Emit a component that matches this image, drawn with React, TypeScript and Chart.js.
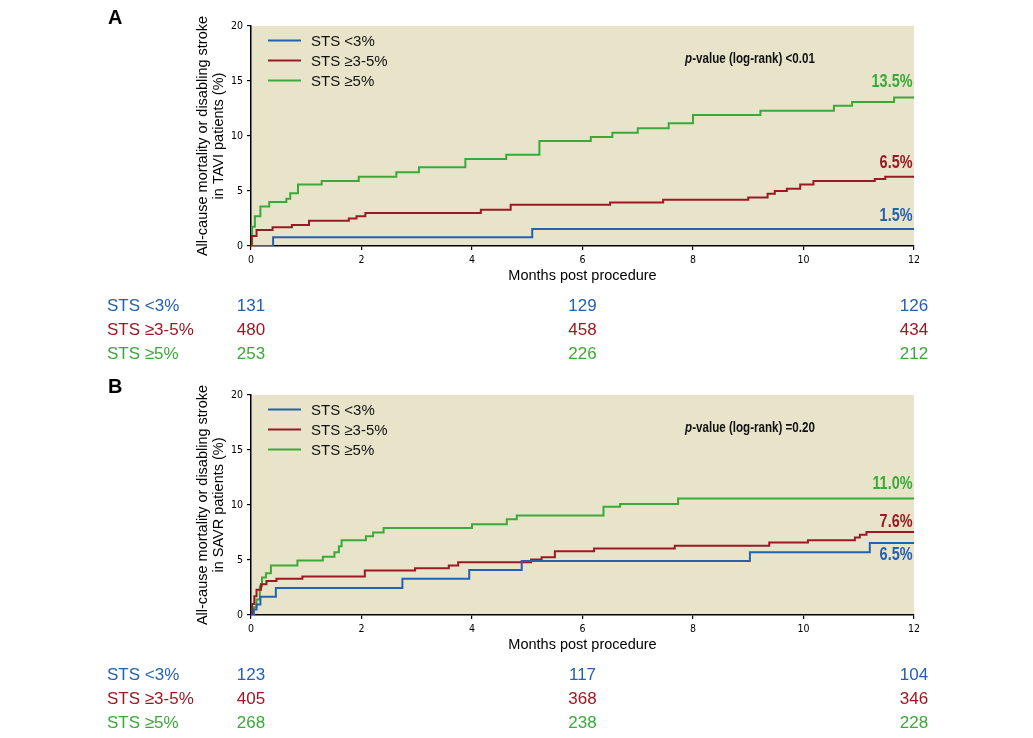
import { useEffect, useRef } from "react";
import { Chart, registerables } from "chart.js";

Chart.register(...registerables);

const NARROW = "'Liberation Sans Narrow', 'DejaVu Sans Condensed', 'Liberation Sans', sans-serif";
const SANS = "'Liberation Sans', Arial, sans-serif";

const BLUE = "#2361b1";
const RED = "#9b1824";
const GREEN = "#3ba93a";
const PLOT_BG = "#e8e4c9";

const groupLabels = ["STS <3%", "STS ≥3-5%", "STS ≥5%"];
const riskTimes = [0, 6, 12];

// panel A - TAVI
const blueA_t = [0, 0.4, 5.09, 12];
const blueA_v = [0, 0.8, 1.55, 1.55];
const redA_t = [0, 0.01, 0.1, 0.39, 0.74, 1.05, 1.77, 1.91, 2.07, 4.16, 4.7, 6.5, 7.46, 9.0, 9.35, 9.48, 9.7, 9.94, 10.18, 11.29, 11.48, 12];
const redA_v = [0, 0.9, 1.45, 1.7, 1.9, 2.3, 2.5, 2.7, 3.0, 3.3, 3.75, 3.95, 4.2, 4.4, 4.75, 5.0, 5.2, 5.6, 5.9, 6.1, 6.3, 6.3];
const greenA_t = [0, 0.02, 0.07, 0.17, 0.33, 0.64, 0.71, 0.85, 1.28, 1.95, 2.63, 3.04, 3.88, 4.62, 5.22, 6.15, 6.54, 7.0, 7.56, 8.0, 9.22, 10.55, 10.88, 11.64, 12];
const greenA_v = [0, 1.75, 2.7, 3.6, 4.0, 4.3, 4.8, 5.6, 5.9, 6.3, 6.7, 7.15, 7.9, 8.3, 9.55, 9.9, 10.3, 10.7, 11.15, 11.9, 12.3, 12.75, 13.1, 13.5, 13.5];
const finalA = ["1.5%", "6.5%", "13.5%"];
const riskA_low = [131, 129, 126];
const riskA_mid = [480, 458, 434];
const riskA_high = [253, 226, 212];

// panel B - SAVR
const blueB_t = [0, 0.05, 0.1, 0.17, 0.45, 2.74, 3.95, 4.9, 9.03, 11.2, 12];
const blueB_v = [0, 0.5, 0.95, 1.65, 2.45, 3.3, 4.1, 4.9, 5.7, 6.55, 6.55];
const redB_t = [0, 0.02, 0.06, 0.1, 0.18, 0.28, 0.46, 0.93, 2.06, 2.97, 3.58, 3.75, 5.07, 5.26, 5.5, 6.21, 7.67, 9.38, 10.08, 10.93, 11.02, 11.14, 12];
const redB_v = [0, 1.0, 1.7, 2.3, 2.8, 3.1, 3.3, 3.5, 4.05, 4.25, 4.5, 4.8, 5.05, 5.25, 5.8, 6.05, 6.3, 6.6, 6.8, 7.05, 7.3, 7.55, 7.55];
const greenB_t = [0, 0.05, 0.1, 0.16, 0.2, 0.27, 0.36, 0.84, 1.3, 1.51, 1.59, 1.64, 2.08, 2.21, 2.4, 4.0, 4.63, 4.81, 6.38, 6.68, 7.73, 12];
const greenB_v = [0, 0.7, 1.4, 2.6, 3.4, 3.8, 4.5, 4.95, 5.3, 5.7, 6.25, 6.8, 7.15, 7.5, 7.9, 8.25, 8.7, 9.05, 9.84, 10.1, 10.6, 10.6];
const finalB = ["6.5%", "7.6%", "11.0%"];
const riskB_low = [123, 117, 104];
const riskB_mid = [405, 368, 346];
const riskB_high = [268, 238, 228];

const colors = [BLUE, RED, GREEN];

// draw text squeezed horizontally (condensed look)
function squeezed(ctx: CanvasRenderingContext2D, text: string, x: number, y: number, sx: number) {
  ctx.save();
  ctx.translate(x, y);
  ctx.scale(sx, 1);
  ctx.fillText(text, 0, 0);
  ctx.restore();
}

const panelDecor = {
  id: "panelDecor",
  beforeDraw(chart: any) {
    const { ctx, chartArea: a } = chart;
    ctx.save();
    ctx.fillStyle = PLOT_BG;
    ctx.fillRect(a.left, a.top, a.right - a.left, a.bottom - a.top);
    ctx.restore();
  },
  afterDraw(chart: any, _args: any, o: any) {
    const { ctx, chartArea: a, scales } = chart;
    const xs = scales.x;
    const ys = scales.y;
    ctx.save();

    // panel letter
    ctx.fillStyle = "#000";
    ctx.font = `bold 21px ${SANS}`;
    ctx.textAlign = "left";
    ctx.textBaseline = "alphabetic";
    squeezed(ctx, o.letter, 108, a.top - 2.5, 0.95);

    // legend inside plot
    chart.data.datasets.forEach((ds: any, i: number) => {
      const y = a.top + 14.5 + i * 20;
      ctx.strokeStyle = ds.borderColor;
      ctx.lineWidth = 2;
      ctx.beginPath();
      ctx.moveTo(a.left + 17, y);
      ctx.lineTo(a.left + 50, y);
      ctx.stroke();
      ctx.fillStyle = "#111";
      ctx.font = `15px ${SANS}`;
      ctx.textAlign = "left";
      ctx.textBaseline = "middle";
      ctx.fillText(ds.label, a.left + 60, y + 1);
    });

    // p-value
    const sx = 0.8;
    const pY = a.top + 32.5;
    ctx.font = `italic bold 14.5px ${SANS}`;
    const wP = ctx.measureText("p").width * sx;
    ctx.font = `bold 14.5px ${SANS}`;
    const rest = "-value (log-rank) " + o.pText;
    const wR = ctx.measureText(rest).width * sx;
    const x0 = a.left + 499 - (wP + wR) / 2;
    ctx.fillStyle = "#111";
    ctx.textAlign = "left";
    ctx.textBaseline = "middle";
    ctx.font = `italic bold 14.5px ${SANS}`;
    squeezed(ctx, "p", x0, pY, sx);
    ctx.font = `bold 14.5px ${SANS}`;
    squeezed(ctx, rest, x0 + wP, pY, sx);

    // end-of-curve labels
    chart.data.datasets.forEach((ds: any, i: number) => {
      const last = ds.data[ds.data.length - 1];
      const y = ys.getPixelForValue(last.y) + o.labelOffsets[i];
      ctx.fillStyle = ds.borderColor;
      ctx.font = `bold 18.5px ${SANS}`;
      ctx.textAlign = "right";
      ctx.textBaseline = "middle";
      squeezed(ctx, o.finals[i], a.right - 1.5, y, 0.78);
    });

    // numbers at risk
    o.risk.forEach((row: number[], i: number) => {
      const y = a.bottom + 60 + i * 24;
      ctx.fillStyle = colors[i];
      ctx.font = `17px ${SANS}`;
      ctx.textBaseline = "middle";
      ctx.textAlign = "left";
      ctx.fillText(groupLabels[i], 107, y);
      ctx.textAlign = "center";
      row.forEach((n, j) => {
        ctx.fillText(String(n), xs.getPixelForValue(riskTimes[j]), y);
      });
    });

    ctx.restore();
  },
};

type PanelProps = {
  letter: string;
  patients: string;
  times: number[][];
  values: number[][];
  finals: string[];
  labelOffsets: number[];
  pText: string;
  risk: number[][];
};

function KMPanel(props: PanelProps) {
  const canvasRef = useRef<HTMLCanvasElement | null>(null);

  useEffect(() => {
    if (!canvasRef.current) return;

    const axisGrid = {
      drawOnChartArea: false,
      drawTicks: true,
      tickLength: 4,
      color: "#000",
      lineWidth: 1.2,
    };
    const axisBorder = { color: "#000", width: 1.5 };
    const tickFont = { family: NARROW, size: 10.5 };
    const titleFont = { family: SANS, size: 14.5, lineHeight: "16px" };

    const chart = new Chart(canvasRef.current, {
      type: "line",
      data: {
        datasets: groupLabels.map((label, i) => ({
          label,
          data: props.times[i].map((t, k) => ({ x: t, y: props.values[i][k] })),
          borderColor: colors[i],
          backgroundColor: colors[i],
          borderWidth: 2,
          pointRadius: 0,
          stepped: "before" as const,
          fill: false,
        })),
      },
      options: {
        responsive: true,
        maintainAspectRatio: false,
        animation: false,
        layout: { padding: { left: 195, top: 26, right: 119, bottom: 83 } },
        plugins: {
          legend: { display: false },
          tooltip: { enabled: false },
          // @ts-ignore
          panelDecor: {
            letter: props.letter,
            finals: props.finals,
            labelOffsets: props.labelOffsets,
            pText: props.pText,
            risk: props.risk,
          },
        },
        scales: {
          x: {
            type: "linear",
            min: 0,
            max: 12,
            afterFit: (s: any) => {
              s.height = 40;
            },
            ticks: { stepSize: 2, color: "#000", font: tickFont, padding: 4, maxRotation: 0 },
            grid: axisGrid,
            border: axisBorder,
            title: {
              display: true,
              text: "Months post procedure",
              color: "#000",
              font: titleFont,
              padding: { top: 0, bottom: 2 },
            },
          },
          y: {
            min: 0,
            max: 20,
            afterFit: (s: any) => {
              s.width = 56;
            },
            ticks: { stepSize: 5, color: "#000", font: tickFont, padding: 4 },
            grid: axisGrid,
            border: axisBorder,
            title: {
              display: true,
              text: ["All-cause mortality or disabling stroke", `in ${props.patients} patients (%)`],
              color: "#000",
              font: titleFont,
              padding: { top: 0, bottom: 0 },
            },
          },
        },
      },
      plugins: [panelDecor],
    });

    return () => {
      chart.destroy();
    };
  }, []);

  return (
    <div style={{ position: "relative", width: "1033px", height: "369px" }}>
      <canvas ref={canvasRef}></canvas>
    </div>
  );
}

export default function App() {
  useEffect(() => {
    document.body.style.margin = "0";
    document.body.style.background = "#fff";
  }, []);

  return (
    <div style={{ width: "1033px", height: "738px", background: "#fff" }}>
      <KMPanel
        letter="A"
        patients="TAVI"
        times={[blueA_t, redA_t, greenA_t]}
        values={[blueA_v, redA_v, greenA_v]}
        finals={finalA}
        labelOffsets={[-13.5, -13.5, -16]}
        pText="<0.01"
        risk={[riskA_low, riskA_mid, riskA_high]}
      />
      <KMPanel
        letter="B"
        patients="SAVR"
        times={[blueB_t, redB_t, greenB_t]}
        values={[blueB_v, redB_v, greenB_v]}
        finals={finalB}
        labelOffsets={[12, -10, -14]}
        pText="=0.20"
        risk={[riskB_low, riskB_mid, riskB_high]}
      />
    </div>
  );
}
